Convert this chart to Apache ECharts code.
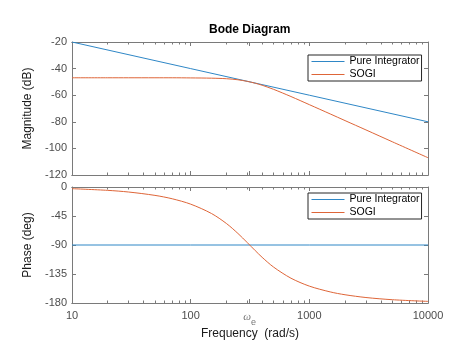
<!DOCTYPE html>
<html>
<head>
<meta charset="utf-8">
<script src="https://cdn.jsdelivr.net/npm/echarts@6/dist/echarts.min.js"></script>
<style>html,body{margin:0;padding:0;background:#fff;}#c{width:474px;height:341px;}</style>
</head>
<body>
<div id="c"></div>
<script>
// Data
const integratorFreq = [10, 100, 1000, 10000];
const integratorMag = [-20, -40, -60, -80];
const integratorPhase = [-90, -90, -90, -90];

const sogiFreq = [10, 20, 30, 50, 70, 100, 150, 200, 250, 300, 350, 400, 500, 700, 1000, 1500, 2000, 3000, 5000, 10000];
const sogiMag = [-46.9, -46.9, -46.9, -46.9, -46.9, -47.0, -47.2, -47.6, -48.4, -49.6, -51.0, -52.5, -55.6, -61.0, -67.1, -74.1, -79.1, -86.1, -95.0, -107.0];
const sogiPhase = [-2.6, -5.2, -7.8, -13.0, -18.3, -26.6, -41.2, -56.6, -72.0, -86.3, -98.7, -109.1, -124.3, -141.5, -153.8, -162.8, -167.2, -171.5, -174.9, -177.5];

const omegaE = 314.16;
const majorTicks = [10, 100, omegaE, 1000, 10000];
const minorTicks = [20, 30, 40, 50, 60, 70, 80, 90, 200, 300, 400, 500, 600, 700, 800, 900, 2000, 3000, 4000, 5000, 6000, 7000, 8000, 9000];
const magTicks = [-120, -100, -80, -60, -40, -20];
const phaseTicks = [-180, -135, -90, -45, 0];

const seriesNames = ['Pure Integrator', 'SOGI'];
const colors = ['#2f87c6', '#de6538'];

const pairs = (xs, ys) => xs.map((x, i) => [x, ys[i]]);

const axisColor = '#7a7a7a';
const labelColor = '#4d4d4d';

function xAx(gridIndex, position, ticks, len, showLabel) {
  return {
    type: 'log', logBase: 10, gridIndex, position, min: 10, max: 10000,
    axisLine: { show: true, onZero: false, lineStyle: { color: axisColor, width: 1 } },
    axisTick: { show: true, inside: true, length: len, customValues: ticks, lineStyle: { color: axisColor } },
    axisLabel: showLabel ? {
      show: true, customValues: majorTicks, color: labelColor, fontSize: 11, fontFamily: 'Liberation Sans, Arial', margin: 7,
      formatter: v => (Math.abs(v - omegaE) < 1 ? '{w|ω}{s|e}' : String(Math.round(v))),
      rich: { w: { fontStyle: 'italic', fontSize: 11, color: '#777', fontFamily: 'Liberation Serif, serif', padding: [0, 0, 3, 0] }, s: { fontSize: 9, color: '#777', padding: [8, 0, 0, 0], fontFamily: 'Liberation Sans, Arial' } }
    } : { show: false },
    splitLine: { show: false },
    name: showLabel ? 'Frequency  (rad/s)' : '',
    nameLocation: 'middle', nameGap: 25,
    nameTextStyle: { fontSize: 12, color: '#1a1a1a', fontFamily: 'Liberation Sans, Arial' }
  };
}

function yAx(gridIndex, position, min, max, interval, ticks, name, showLabel) {
  return {
    type: 'value', gridIndex, position, min, max, interval,
    axisLine: { show: true, onZero: false, lineStyle: { color: axisColor, width: 1 } },
    axisTick: { show: true, inside: true, length: 4, lineStyle: { color: axisColor } },
    axisLabel: showLabel ? { show: true, color: labelColor, fontSize: 11, fontFamily: 'Liberation Sans, Arial', margin: 5 } : { show: false },
    splitLine: { show: false },
    name: showLabel ? name : '',
    nameLocation: 'middle', nameGap: 31, nameRotate: 90,
    nameTextStyle: { fontSize: 12, color: '#1a1a1a', fontFamily: 'Liberation Sans, Arial' }
  };
}

function legendAt(top) {
  return {
    data: seriesNames.map((n, i) => ({ name: n, itemStyle: { opacity: 0 }, lineStyle: { color: colors[i], width: 1 } })),
    orient: 'vertical', left: 308, top: top,
    itemWidth: 33, itemHeight: 11, itemGap: 2,
    padding: [1, 2, 1, 3],
    borderColor: '#262626', borderWidth: 1, backgroundColor: '#fff',
    textStyle: { fontSize: 10.5, color: '#000', fontFamily: 'Liberation Sans, Arial' }
  };
}

const chart = echarts.init(document.getElementById('c'), null, { renderer: 'canvas' });
chart.setOption({
  animation: false,
  backgroundColor: '#fff',
  color: colors,
  title: {
    text: 'Bode Diagram', left: 209, top: 24, padding: 0,
    textStyle: { fontSize: 12, fontWeight: 'bold', color: '#000', fontFamily: 'Liberation Sans, Arial' }
  },
  legend: [ legendAt(55), legendAt(193) ],
  grid: [
    { left: 72, top: 42, width: 356, height: 133 },
    { left: 72, top: 187, width: 356, height: 116 }
  ],
  xAxis: [
    xAx(0, 'bottom', majorTicks, 4, false),
    xAx(0, 'bottom', minorTicks, 2.5, false),
    xAx(0, 'top', majorTicks, 4, false),
    xAx(0, 'top', minorTicks, 2.5, false),
    xAx(1, 'bottom', majorTicks, 4, true),
    xAx(1, 'bottom', minorTicks, 2.5, false),
    xAx(1, 'top', majorTicks, 4, false),
    xAx(1, 'top', minorTicks, 2.5, false)
  ],
  yAxis: [
    yAx(0, 'left', magTicks[0], magTicks[magTicks.length - 1], 20, magTicks, 'Magnitude (dB)', true),
    yAx(0, 'right', magTicks[0], magTicks[magTicks.length - 1], 20, magTicks, '', false),
    yAx(1, 'left', phaseTicks[0], phaseTicks[phaseTicks.length - 1], 45, phaseTicks, 'Phase (deg)', true),
    yAx(1, 'right', phaseTicks[0], phaseTicks[phaseTicks.length - 1], 45, phaseTicks, '', false)
  ],
  series: [
    { name: seriesNames[0], type: 'line', xAxisIndex: 0, yAxisIndex: 0, data: pairs(integratorFreq, integratorMag), symbol: 'none', lineStyle: { width: 1, color: colors[0] }, itemStyle: { color: colors[0] } },
    { name: seriesNames[1], type: 'line', xAxisIndex: 0, yAxisIndex: 0, data: pairs(sogiFreq, sogiMag), symbol: 'none', smooth: 0.3, lineStyle: { width: 1, color: colors[1] }, itemStyle: { color: colors[1] } },
    { name: seriesNames[0], type: 'line', xAxisIndex: 4, yAxisIndex: 2, data: pairs(integratorFreq, integratorPhase), symbol: 'none', lineStyle: { width: 1, color: colors[0] }, itemStyle: { color: colors[0] } },
    { name: seriesNames[1], type: 'line', xAxisIndex: 4, yAxisIndex: 2, data: pairs(sogiFreq, sogiPhase), symbol: 'none', smooth: 0.3, lineStyle: { width: 1, color: colors[1] }, itemStyle: { color: colors[1] } }
  ]
});
</script>
</body>
</html>
